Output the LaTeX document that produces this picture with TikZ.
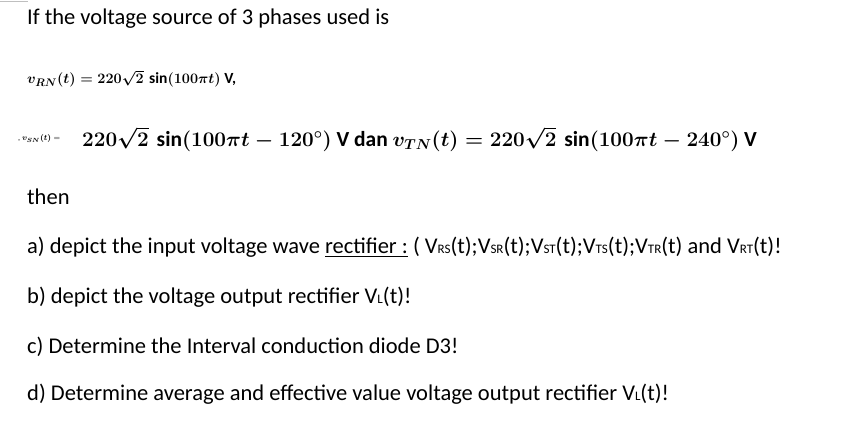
\documentclass[tikz,border=0pt]{standalone}
\usepackage{fontspec}
\usepackage{amsmath}
\setmainfont{Carlito}
\newcommand{\subtxt}[1]{{\fontsize{13}{13}\selectfont #1}}
\begin{document}
\begin{tikzpicture}[x=1pt,y=-1pt]
\tikzset{txt/.style={anchor=west,inner sep=0pt,font=\fontsize{22.5}{26}\selectfont}}
\useasboundingbox (0,0) rectangle (862,433);
\draw[gray!50,line width=0.8] (0,1) -- (28,1);
\node[txt] (l1) at (27,19) {If the voltage source of 3 phases used is};
\node[txt,font=\fontsize{15.5}{18}\selectfont] (l2) at (27,79) {$\boldsymbol{v_{RN}(t)=220\sqrt{2}\,\sin(100\pi t)}$ \textbf{V,}};
\node[txt,font=\fontsize{8}{9}\selectfont] (l3a) at (18,139) {,\ $\boldsymbol{v_{SN}(t)}=$};
\node[txt,font=\fontsize{21.5}{24}\selectfont] (l3) at (82,139) {$\boldsymbol{220\sqrt{2}\,\sin(100\pi t-120^\circ)}$ \textbf{V dan} $\boldsymbol{v_{TN}(t)=220\sqrt{2}\,\sin(100\pi t-240^\circ)}$ \textbf{V}};
\node[txt] (l4) at (27,197) {then};
\node[txt] (la) at (27,247) {a) depict the input voltage wave \underline{rectifier :} ( V\subtxt{RS}(t);V\subtxt{SR}(t);V\subtxt{ST}(t);V\subtxt{TS}(t);V\subtxt{TR}(t) and V\subtxt{RT}(t)!};
\node[txt] (lb) at (27,297) {b) depict the voltage output rectifier V\subtxt{L}(t)!};
\node[txt] (lc) at (27,347) {c) Determine the Interval conduction diode D3!};
\node[txt] (ld) at (27,394) {d) Determine average and effective value voltage output rectifier V\subtxt{L}(t)!};
\end{tikzpicture}
\end{document}
